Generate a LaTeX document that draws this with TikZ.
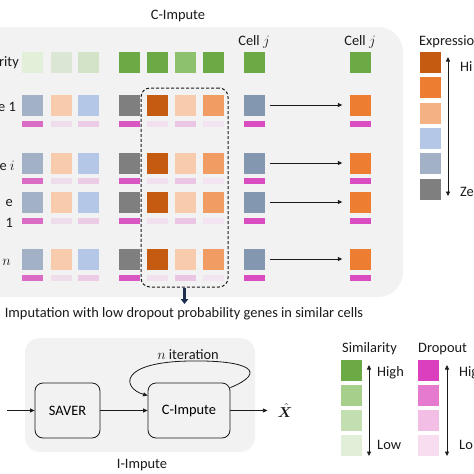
\documentclass[tikz,border=0pt]{standalone}
\usepackage{fontspec}
\setmainfont{Carlito}
\usepackage{bm}
\usetikzlibrary{arrows.meta}
\definecolor{panel}{HTML}{F2F2F2}
% similarity greens
\definecolor{gA}{HTML}{E2F0D9}\definecolor{gB}{HTML}{DCE6D4}\definecolor{gC}{HTML}{D2E3C7}
\definecolor{gD}{HTML}{6BAA45}\definecolor{gE}{HTML}{8EC16E}
\definecolor{gL1}{HTML}{6BAA45}\definecolor{gL2}{HTML}{A5CF8A}\definecolor{gL3}{HTML}{C3DFB1}\definecolor{gL4}{HTML}{E1EFD8}
% expression
\definecolor{eA}{HTML}{A3B1C6}\definecolor{eB}{HTML}{F8CBAD}\definecolor{eC}{HTML}{B4C7E7}
\definecolor{eD}{HTML}{7F7F7F}\definecolor{eE}{HTML}{C55A11}\definecolor{eF}{HTML}{F19C63}
\definecolor{eJ}{HTML}{8497B0}\definecolor{eO}{HTML}{ED7D31}\definecolor{eL}{HTML}{F4B183}
% dropout
\definecolor{pA}{HTML}{DA6CC6}\definecolor{pB}{HTML}{EFDDEC}\definecolor{pC}{HTML}{EBCBE6}
\definecolor{pD}{HTML}{D957C2}\definecolor{pE}{HTML}{F1E1EF}\definecolor{pF}{HTML}{EAC6E4}
\definecolor{pG}{HTML}{F3E4F1}\definecolor{pJ}{HTML}{D94DC0}
\definecolor{dL1}{HTML}{DC3FBD}\definecolor{dL2}{HTML}{E67ACF}\definecolor{dL3}{HTML}{F2BEE6}\definecolor{dL4}{HTML}{F8DDF1}
\definecolor{navy}{HTML}{1F2D4E}
\definecolor{ink}{HTML}{1A1A1A}
\tikzset{
  sq/.style={minimum size=21pt,inner sep=0pt,draw=none},
  barbox/.style={minimum width=21pt,minimum height=6pt,inner sep=0pt,draw=none},
  arr/.style={draw=ink,line width=0.8pt,-{Triangle[length=4.5pt,width=4pt]}},
  dblarr/.style={draw=ink,line width=0.8pt,{Triangle[length=4.5pt,width=4pt]}-{Triangle[length=4.5pt,width=4pt]}},
  procbox/.style={draw=ink,line width=0.8pt,rounded corners=8pt,inner sep=0pt},
  txt/.style={text=ink,inner sep=0pt},
}
\begin{document}
\begin{tikzpicture}[x=1pt,y=-1pt,font=\fontsize{14.4}{17}\selectfont]
\useasboundingbox[fill=white] (0,0) rectangle (474,474);
% C-Impute panel
\fill[panel,rounded corners=25pt] (-40,27) rectangle (403,297);
\node[txt] (title) at (178,16) {C-Impute};
% left labels (cut at picture edge in the reference)
\node[txt,anchor=east] (lsim) at (19,62.5) {rity};
\node[txt,anchor=east] (l1) at (16,107) {e 1};
\node[txt,anchor=east] (li) at (15,166) {e $i$};
\node[txt,anchor=east] (lm1a) at (13,203) {e};
\node[txt,anchor=east] (lm1b) at (13,223) {1};
\node[txt,anchor=east] (ln) at (11,262) {$n$};
% similarity row
\foreach \c/\xx/\col in {1/32.5/gA,2/61/gB,3/88.5/gC,4/129/gD,5/157.5/gD,6/185/gE,7/213/gD}{
  \node[sq,fill=\col] (s\c) at (\xx,62.5) {};
}
\node[sq,fill=gD] (sjl) at (254,62.5) {};
\node[sq,fill=gD] (sjr) at (360,62.5) {};
\node[txt] (cjl) at (254,42) {Cell $j$};
\node[txt] (cjr) at (360,42) {Cell $j$};
% cell rows
\foreach \r/\yy/\yb in {1/105/124,2/163/180.5,3/202/220.5,4/259/277.5}{
  \foreach \c/\xx/\col/\bcol in {1/32.5/eA/pA,2/61/eB/pB,3/88.5/eC/pC,4/129/eD/pD,5/157.5/eE/pE,6/185/eB/pF,7/213/eF/pG}{
    \node[sq,fill=\col] (r\r c\c) at (\xx,\yy) {};
    \node[barbox,fill=\bcol] (b\r c\c) at (\xx,\yb) {};
  }
  \node[sq,fill=eJ] (jl\r) at (254,\yy) {};
  \node[barbox,fill=pJ] (jlb\r) at (254,\yb) {};
  \node[sq,fill=eO] (jr\r) at (360,\yy) {};
  \node[barbox,fill=pJ] (jrb\r) at (360,\yb) {};
  \draw[arr,shorten <=5pt,shorten >=7pt] (jl\r) -- (jr\r);
}
% dashed selection box
\node[draw=ink,dashed,dash pattern=on 3pt off 2pt,line width=1pt,rounded corners=9pt,
      minimum width=87pt,minimum height=199pt,inner sep=0pt] (dbox) at (184.5,187.5) {};
\coordinate (dtip) at (184.5,304);
\draw[navy,line width=2.6pt,-{Triangle[length=5pt,width=7.5pt]}] (dbox.south) -- (dtip);
\node[txt] (caption) at (184,314) {Imputation with low dropout probability genes in similar cells};
% Expression legend
\node[txt,anchor=west] (exptitle) at (419,42) {Expressio};
\foreach \k/\col in {0/eE,1/eO,2/eL,3/eC,4/eA,5/eD}{
  \node[sq,fill=\col] (ex\k) at (430,62.5+25.3*\k) {};
}
\coordinate (exa) at (448,57);
\coordinate (exb) at (448,196);
\draw[dblarr] (exb) -- (exa);
\node[txt,anchor=west] (exhi) at (460,67) {Hi};
\node[txt,anchor=west] (exze) at (460,192) {Ze};
% I-Impute panel
\fill[panel,rounded corners=15pt] (25,338) rectangle (255,452);
\node[txt] (ititle) at (142,465) {I-Impute};
\node[procbox,minimum width=65pt,minimum height=55pt] (saver) at (67.5,410.5) {SAVER};
\node[procbox,minimum width=82pt,minimum height=55pt] (ci) at (189,410.5) {C-Impute};
\coordinate (inp) at (7,410.5);
\draw[arr] (inp) -- (saver);
\draw[arr] (saver) -- (ci);
\node[txt] (xhat) at (285,410.5) {$\hat{\bm{X}}$};
\draw[arr,shorten >=10pt] (ci) -- (xhat);
\draw[arr] ([yshift=-5pt]ci.north east) .. controls (268,372) and (250,360) .. (190,361)
      .. controls (118,362) and (122,388) .. ([yshift=-13pt]ci.north west);
\node[txt] (iter) at (188,355) {$n$ iteration};
% Similarity legend
\node[txt,anchor=west] (simtitle) at (342,349) {Similarity};
\foreach \k/\col in {0/gL1,1/gL2,2/gL3,3/gL4}{
  \node[sq,fill=\col] (sl\k) at (351.5,370.5+25*\k) {};
}
\coordinate (sla) at (369,365);
\coordinate (slb) at (369,456);
\draw[dblarr] (slb) -- (sla);
\node[txt,anchor=west] (slhi) at (377,373) {High};
\node[txt,anchor=west] (sllo) at (377,445) {Low};
% Dropout legend
\node[txt,anchor=west] (droptitle) at (418,349) {Dropout};
\foreach \k/\col in {0/dL1,1/dL2,2/dL3,3/dL4}{
  \node[sq,fill=\col] (dl\k) at (428.5,370.5+25*\k) {};
}
\coordinate (dla) at (447,365);
\coordinate (dlb) at (447,456);
\draw[dblarr] (dlb) -- (dla);
\node[txt,anchor=west] (dlhi) at (459,373) {Hig};
\node[txt,anchor=west] (dllo) at (459,445) {Lo};
\end{tikzpicture}
\end{document}
